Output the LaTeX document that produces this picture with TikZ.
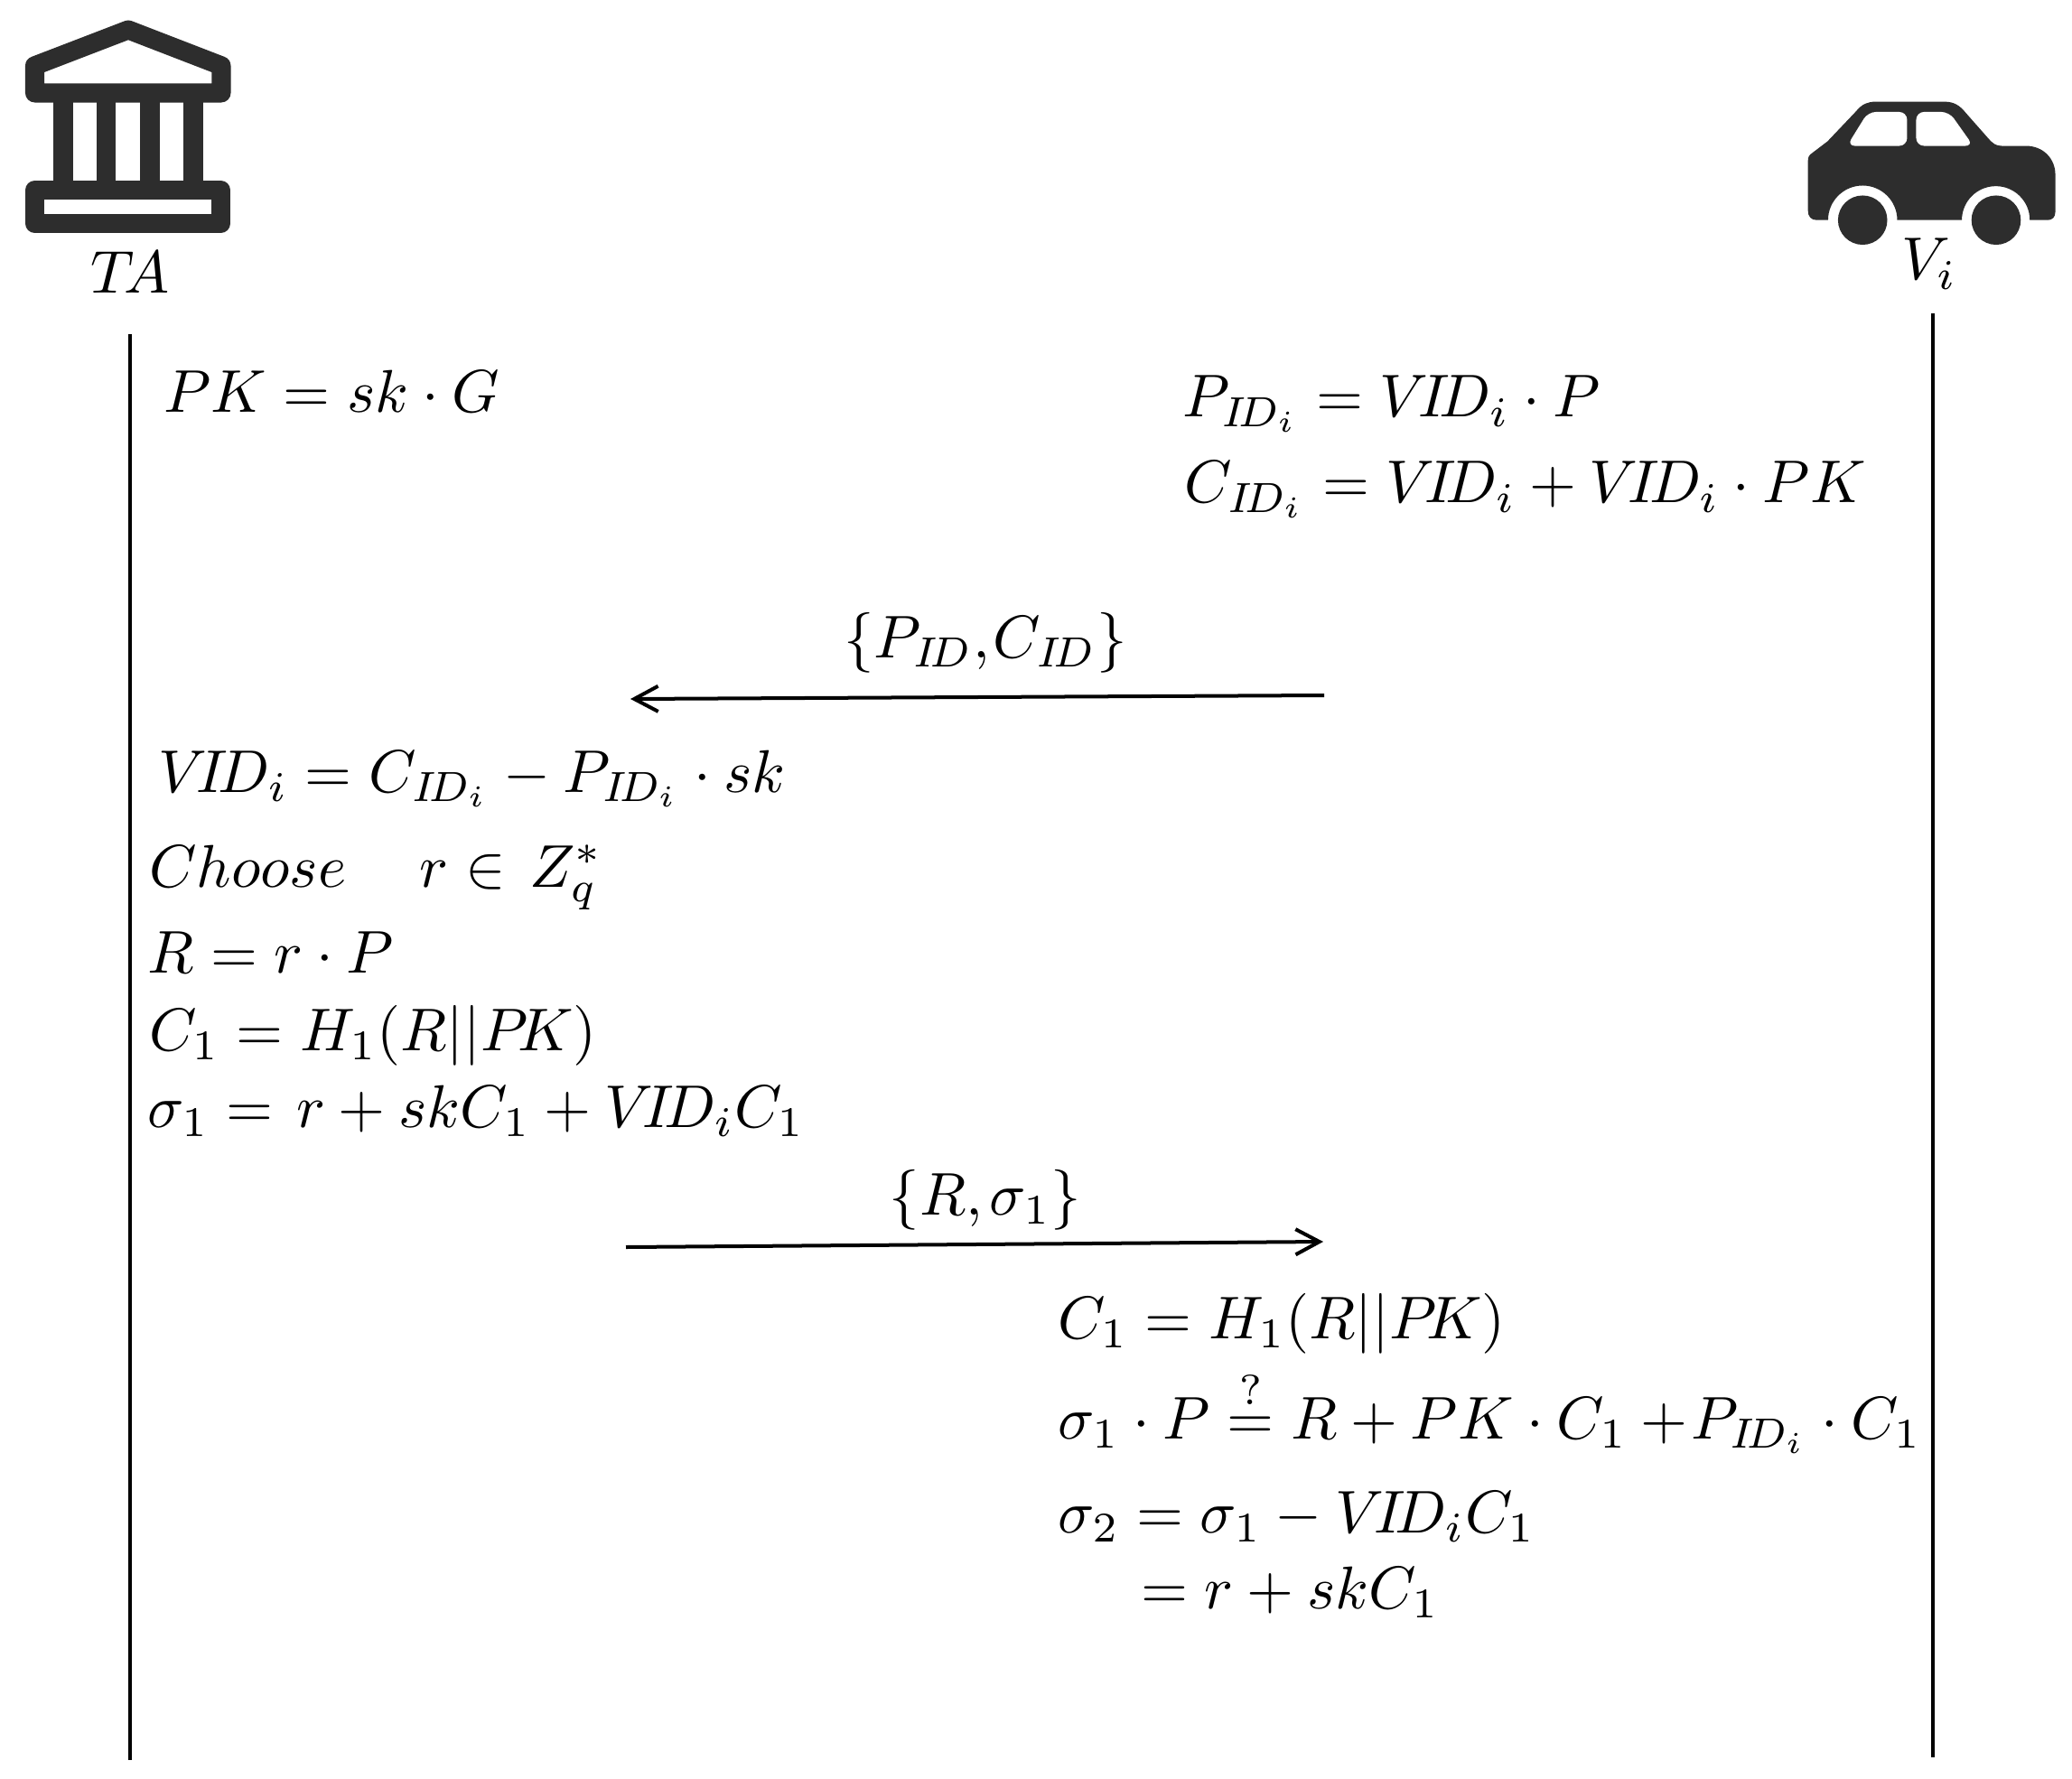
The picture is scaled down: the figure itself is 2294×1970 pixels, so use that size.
\documentclass[tikz,border=0pt]{standalone}
\usetikzlibrary{arrows.meta}
\definecolor{iconDark}{HTML}{2D2D2D}
\newcommand{\vid}{V\!I\!D}
\newcommand{\subid}{I\!D}
\tikzset{
  eq/.style={anchor=base west,inner sep=0pt,scale=1.9},
  msg/.style={anchor=base,inner sep=0pt,scale=1.9},
  lifeLine/.style={line width=0.045cm},
  msgArrow/.style={line width=0.04cm,-{Straight Barb[length=7.5pt,width=8pt]}},
  templeLine/.style={iconDark,line width=0.21cm,line join=round}
}
\begin{document}
\begin{tikzpicture}[x=0.01cm,y=-0.01cm]
        \useasboundingbox (0,0) rectangle (2294,1970);
        \draw[templeLine] (38.5,103) -- (38.5,72.8) -- (142,33) -- (245,72.8) -- (245,103) -- cycle;
        \foreach \colX in {70,117.5,166,214}
          \draw[templeLine,line join=miter] (\colX,113) -- (\colX,200);
        \draw[templeLine] (38.5,210.5) rectangle (244.5,247.5);
        \begin{scope}[shift={(1980,90)},x=0.003333cm,y=-0.003333cm]
          \fill[iconDark] (65,265) .. controls (65,250) and (70,245) .. (80,238) -- (130,200) -- (225,100)
            .. controls (245,75) and (265,68) .. (290,68) -- (520,68) .. controls (550,68) and (570,80) .. (590,105)
            -- (665,190) .. controls (680,207) and (690,215) .. (710,215) -- (790,215)
            .. controls (850,215) and (888,260) .. (888,310) -- (888,435) .. controls (888,452) and (878,462) .. (862,462)
            -- (803,462) arc[start angle=0,end angle=-180,radius=113]
            -- (362,462) arc[start angle=0,end angle=-180,radius=115]
            -- (95,462) .. controls (75,462) and (65,450) .. (65,430) -- cycle;
          \fill[white,rounded corners=2.5pt] (195,215) -- (265,102) -- (395,102) -- (395,215) -- cycle;
          \fill[white,rounded corners=2.5pt] (425,102) -- (535,102) -- (615,215) -- (425,215) -- cycle;
          \fill[iconDark] (247,462) circle[radius=82];
          \fill[iconDark] (691,462) circle[radius=82];
        \end{scope}
        \node[eq] (taLabel) at (99,325) {$T\!A$};
        \node[eq] (vLabel) at (2104,310) {$V_i$};
        \coordinate (taTop) at (144,370);
        \coordinate (taEnd) at (144,1949);
        \coordinate (vTop) at (2140,347);
        \coordinate (vEnd) at (2140,1946);
        \draw[lifeLine] (taTop) -- (taEnd);
        \draw[lifeLine] (vTop) -- (vEnd);
        \node[eq] (pkEq) at (180,457) {$PK = sk\cdot G$};
        \node[eq] (pidEq) at (1308,462) {$P_{\subid_i} = \vid_i\cdot P$};
        \node[eq] (cidEq) at (1310,557) {$C_{\subid_i} = \vid_i + \vid_i\cdot PK$};
        \node[msg] (reqLabel) at (1091,728) {$\{P_{\subid}{,}\mkern1mu C_{\subid}\}$};
        \coordinate (reqStart) at (1466,770);
        \coordinate (reqEnd) at (698,774);
        \draw[msgArrow] (reqStart) -- (reqEnd);
        \node[eq] (vidEq) at (174,877) {$\vid_i = C_{\subid_i} - P_{\subid_i}\cdot sk$};
        \node[eq] (chooseEq) at (164,982) {$Choose\mkern22mu r\in\mkern2mu Z_q^*$};
        \node[eq] (rEq) at (162,1077) {$R = r\cdot P$};
        \node[eq] (cOneEq) at (164,1163) {$C_1 = H_1(R||P\!K)$};
        \node[eq] (sigmaEq) at (162,1248) {$\sigma_1 = \mkern2mu r + skC_1 + \vid_iC_1$};
        \node[msg] (respLabel) at (1091,1345) {$\{R,\mkern-1mu\sigma_1\}$};
        \coordinate (respStart) at (693,1381);
        \coordinate (respEnd) at (1465,1375);
        \draw[msgArrow] (respStart) -- (respEnd);
        \node[eq] (cCheckEq) at (1170,1482) {$C_1 = H_1(R||P\!K)$};
        \node[eq] (verifyEq) at (1170,1593) {$\sigma_1\cdot P \stackrel{?}{=} R + PK\cdot C_1 + \mkern-3mu P_{\subid_i}\cdot C_1$};
        \node[eq] (sigmaTwoEq) at (1170,1697) {$\sigma_2 = \sigma_1 - \vid_iC_1$};
        \node[eq] (sigmaRestEq) at (1262,1781) {$= r + skC_1$};
\end{tikzpicture}
\end{document}
